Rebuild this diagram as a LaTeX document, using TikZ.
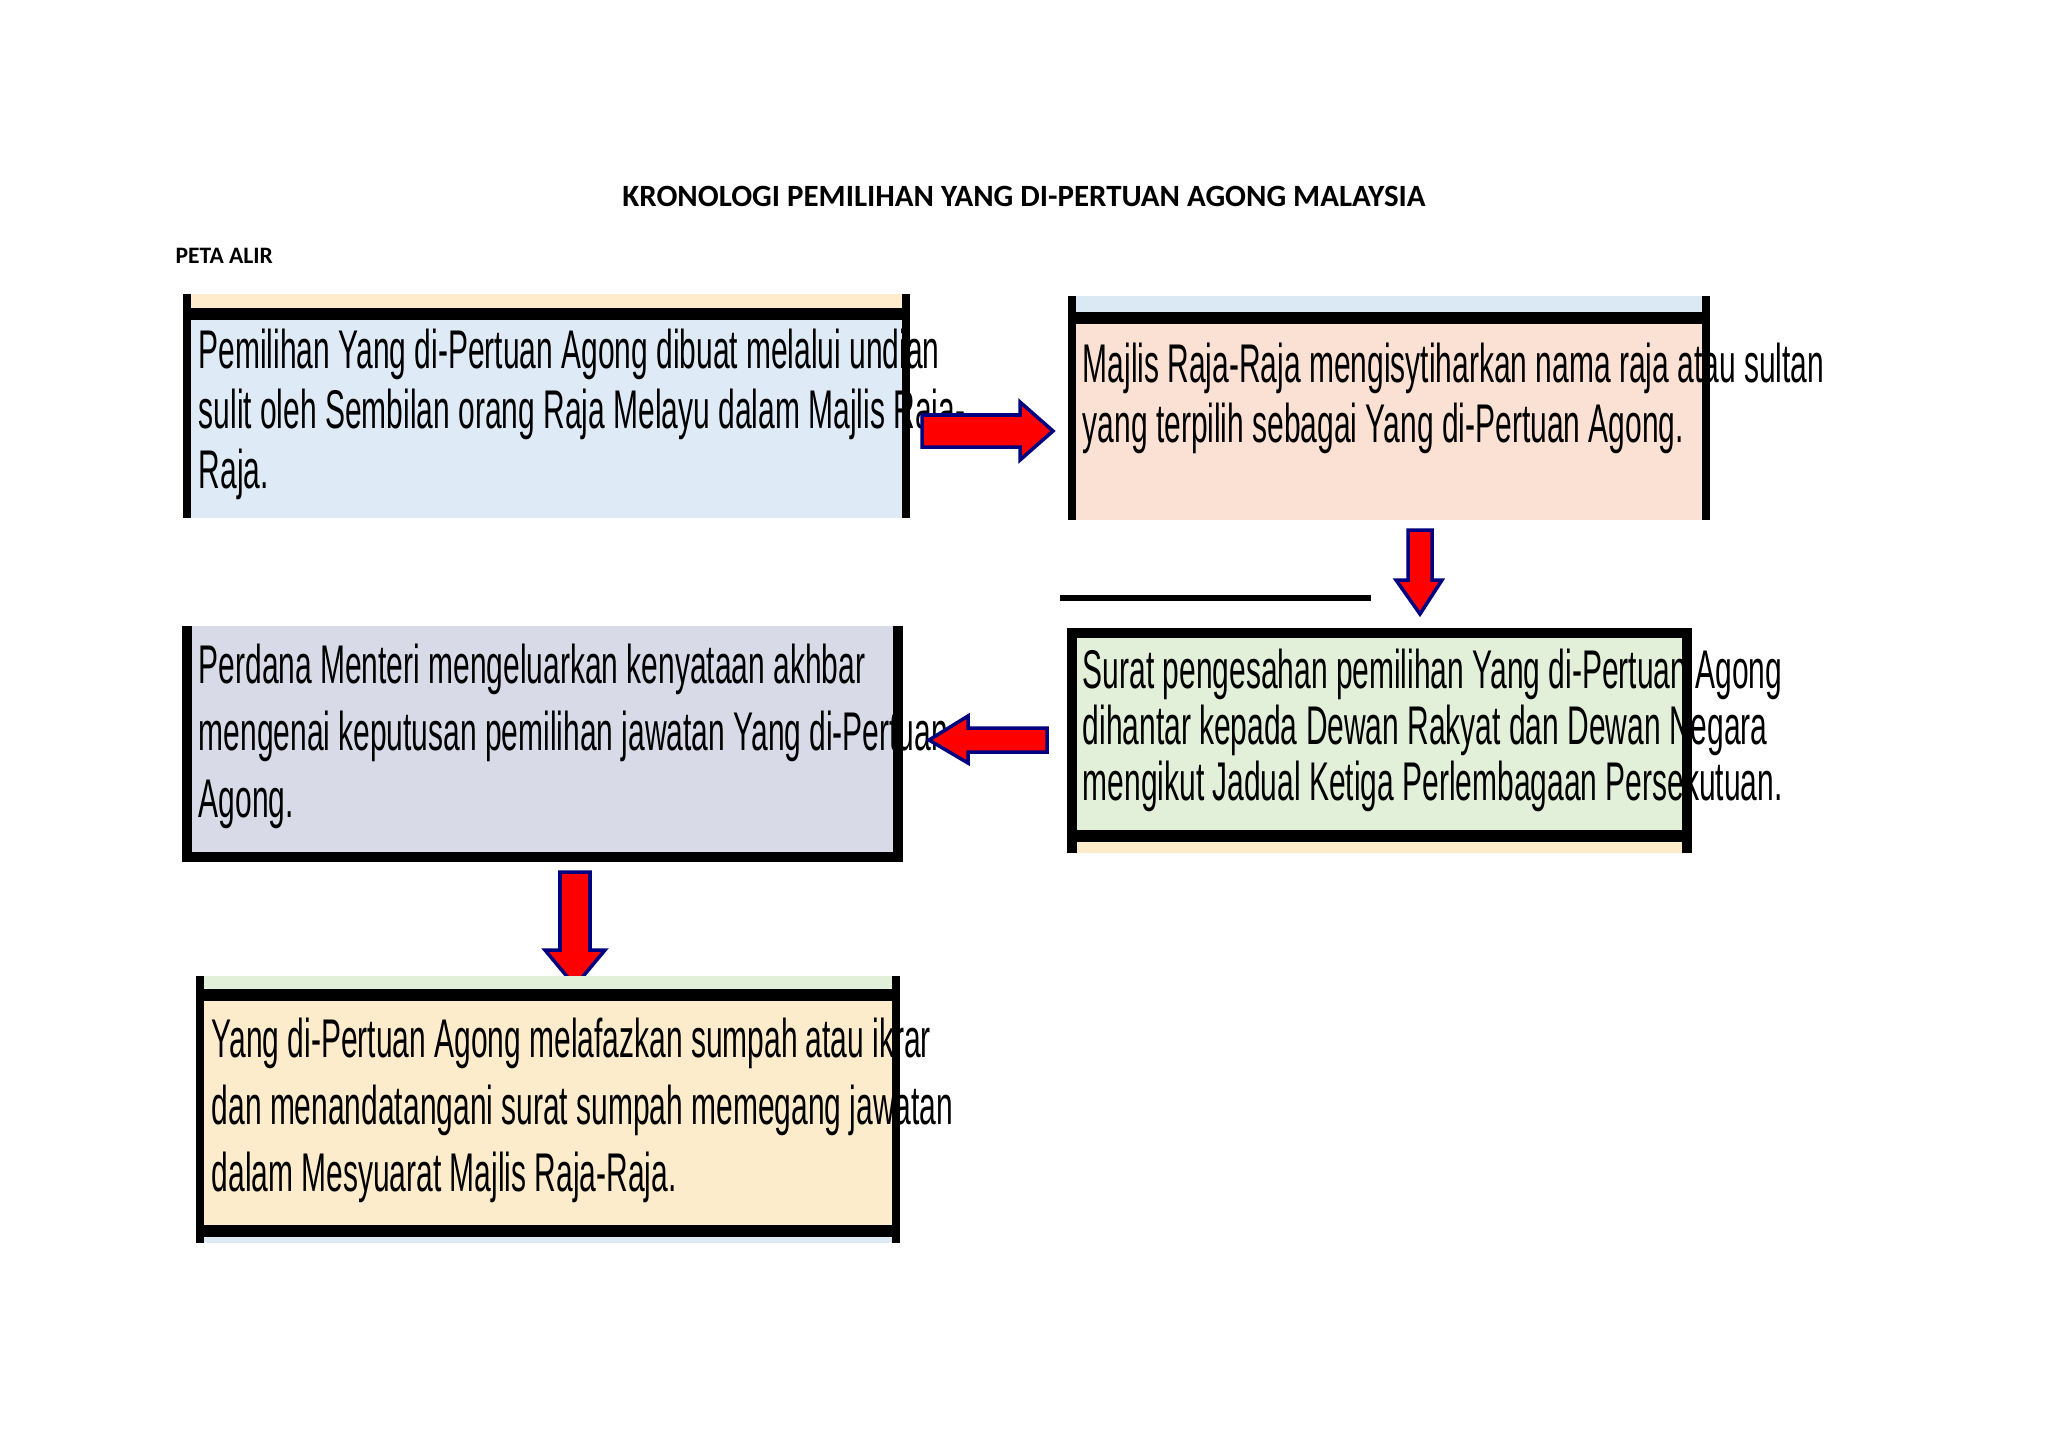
\documentclass[tikz,border=0pt]{standalone}
\usepackage{fontspec}
\setmainfont{Liberation Sans}
\newfontfamily\titlefont{Carlito}
\begin{document}
\begin{tikzpicture}[x=0.01cm,y=-0.01cm,
  txt/.style={anchor=north west,align=left,inner sep=0pt},
  arr/.style={fill=red,draw=blue!50!black,line width=1pt},
  bl/.style={line width=3.5pt,black}]
\newcommand\boxtext[2]{\scalebox{0.55}[1]{\fontsize{15.5}{#1}\selectfont\begin{tabular}{@{}l@{}}#2\end{tabular}}}
\useasboundingbox (0,0) rectangle (2048,1448);
\node[font=\titlefont\bfseries\fontsize{8.8}{10}\selectfont] (title) at (1024,196) {KRONOLOGI PEMILIHAN YANG DI-PERTUAN AGONG MALAYSIA};
\node[font=\titlefont\bfseries\fontsize{6.7}{8}\selectfont,anchor=west,inner sep=0pt] (peta) at (175,256) {PETA ALIR};
% box1
\fill[fill={rgb,255:red,255;green,236;blue,205}] (187,294) rectangle (906,314);
\fill[fill={rgb,255:red,222;green,234;blue,246}] (187,314) rectangle (906,518);
\draw[bl] (187,314) -- (906,314);
\draw[line width=2.5pt] (187,294) -- (187,518) (906,294) -- (906,518);
\node[txt] (t1) at (198,326) {\boxtext{17}{Pemilihan Yang di-Pertuan Agong dibuat melalui undian\\ sulit oleh Sembilan orang Raja Melayu dalam Majlis Raja-\\ Raja.}};
% box2
\fill[fill={rgb,255:red,218;green,233;blue,243}] (1072,296) rectangle (1706,318);
\fill[fill={rgb,255:red,251;green,225;blue,212}] (1072,318) rectangle (1706,520);
\draw[bl] (1072,318) -- (1706,318);
\draw[line width=2.5pt] (1072,296) -- (1072,520) (1706,296) -- (1706,520);
\node[txt] (t2) at (1082,340) {\boxtext{17}{Majlis Raja-Raja mengisytiharkan nama raja atau sultan\\ yang terpilih sebagai Yang di-Pertuan Agong.}};
% arrows
\draw[arr] (922,415) -- (1020,415) -- (1020,402) -- (1053,431) -- (1020,460) -- (1020,447) -- (922,447) -- cycle;
\draw[arr] (1408,530) -- (1432,530) -- (1432,580) -- (1442,580) -- (1420,614) -- (1396,580) -- (1408,580) -- cycle;
\draw[line width=1.5pt] (1060,598) -- (1371,598);
% box3
\fill[fill={rgb,255:red,226;green,239;blue,217}] (1072,633) rectangle (1687,836);
\fill[fill={rgb,255:red,253;green,236;blue,204}] (1072,836) rectangle (1687,853);
\draw[line width=3pt] (1072,853) -- (1072,633) -- (1687,633) -- (1687,853);
\draw[bl] (1072,836) -- (1687,836);
\node[txt] (t3) at (1082,648) {\boxtext{16}{Surat pengesahan pemilihan Yang di-Pertuan Agong\\ dihantar kepada Dewan Rakyat dan Dewan Negara\\ mengikut Jadual Ketiga Perlembagaan Persekutuan.}};
% box4
\fill[fill={rgb,255:red,216;green,218;blue,232}] (187,626) rectangle (898,857);
\draw[line width=3pt] (187,626) -- (187,857) -- (898,857) -- (898,626);
\node[txt] (t4) at (198,636) {\boxtext{19}{Perdana Menteri mengeluarkan kenyataan akhbar\\ mengenai keputusan pemilihan jawatan Yang di-Pertuan\\ Agong.}};
\draw[arr] (1047,728) -- (968,728) -- (968,716) -- (929,740) -- (968,763) -- (968,752) -- (1047,752) -- cycle;
\draw[arr] (560,872) -- (590,872) -- (590,950) -- (605,950) -- (575,986) -- (545,950) -- (560,950) -- cycle;
% box5
\fill[fill={rgb,255:red,226;green,239;blue,217}] (200,976) rectangle (896,995);
\fill[fill={rgb,255:red,253;green,236;blue,204}] (200,995) rectangle (896,1231);
\fill[fill={rgb,255:red,222;green,234;blue,246}] (200,1231) rectangle (896,1243);
\draw[bl] (200,995) -- (896,995) (200,1231) -- (896,1231);
\draw[line width=2.5pt] (200,976) -- (200,1243) (896,976) -- (896,1243);
\node[txt] (t5) at (211,1010) {\boxtext{19}{Yang di-Pertuan Agong melafazkan sumpah atau ikrar\\ dan menandatangani surat sumpah memegang jawatan\\ dalam Mesyuarat Majlis Raja-Raja.}};
\end{tikzpicture}
\end{document}
